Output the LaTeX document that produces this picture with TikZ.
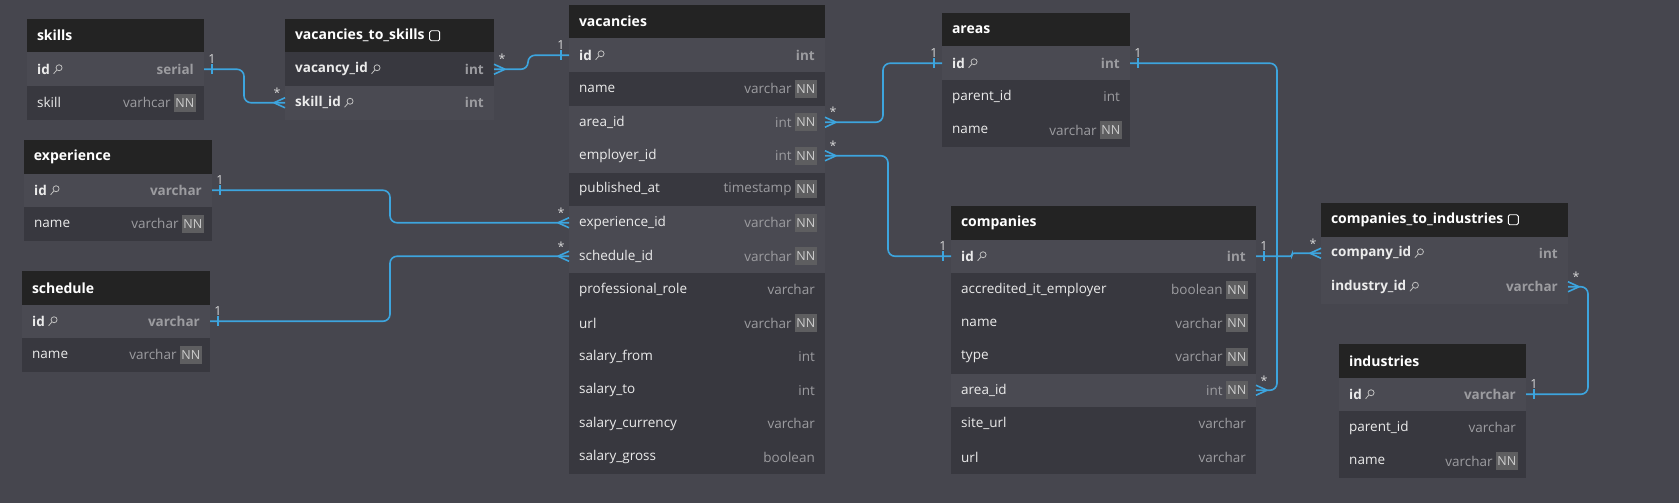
\documentclass[tikz,border=0pt]{standalone}
\usepackage{fontspec}
\setmainfont{Open Sans}
\definecolor{bg}{HTML}{46464E}
\definecolor{hdrc}{HTML}{232323}
\definecolor{rowhi}{HTML}{4A4A52}
\definecolor{rowlo}{HTML}{38383F}
\definecolor{typc}{HTML}{9C9CA0}
\definecolor{nnbg}{HTML}{5E5E60}
\definecolor{linec}{HTML}{3DA5DE}
\tikzset{
 hdr/.style={text=white,font=\fontsize{14}{16}\selectfont\bfseries,inner sep=0pt,outer sep=0pt},
 rowbox/.style={minimum height=33.5pt,inner sep=0pt,outer sep=0pt,draw=none},
 txt/.style={text=white!92!black,font=\fontsize{13.5}{15}\selectfont,inner sep=0pt},
 typ/.style={text=typc,font=\fontsize{13.5}{15}\selectfont,inner sep=0pt},
 nnb/.style={fill=nnbg,text=white!80!black,font=\fontsize{12.5}{14}\selectfont,inner sep=1.5pt,minimum height=18pt},
 conn/.style={draw=linec,line width=1.6pt,rounded corners=7pt},
 lbl/.style={text=white!85!black,font=\fontsize{12.5}{14}\selectfont,inner sep=0pt},
 keyic/.style={draw=white!75!black,line width=0.8pt}
}
\newcommand\erd[6]{%
 \node[rowbox,fill=hdrc,minimum width=#4pt,anchor=north west] (#1) at (#2,#3) {};
 \node[hdr,anchor=west] (#1-t) at ([xshift=10pt]#1.west) {#5};
 \foreach \n/\t/\nn/\k/\h [count=\i] in {#6}{
   \ifnum\h=1 \def\rf{rowhi}\else\def\rf{rowlo}\fi
   \ifnum\k=1 \def\nf{\bfseries}\else\def\nf{}\fi
   \node[rowbox,fill=\rf,minimum width=#4pt,anchor=north west] (#1-\i) at (#2,{#3+33.5*\i}) {};
   \node[txt,anchor=west] (#1-\i-n) at ([xshift=10pt]#1-\i.west) {\nf\n};
   \ifnum\k=1
     \draw[keyic] ([xshift=9pt,yshift=1.5pt]#1-\i-n.east) circle (3pt);
     \draw[keyic] ([xshift=7pt,yshift=-0.5pt]#1-\i-n.east) -- ([xshift=3.5pt,yshift=-4.5pt]#1-\i-n.east);
   \fi
   \ifnum\nn=1
     \node[nnb,anchor=east] (#1-\i-b) at ([xshift=-8pt]#1-\i.east) {NN};
     \node[typ,anchor=east] at ([xshift=-3pt]#1-\i-b.west) {\nf\t};
   \else
     \node[typ,anchor=east] at ([xshift=-10pt]#1-\i.east) {\nf\t};
   \fi
 }%
}
\newcommand\noteic[1]{\draw[white,line width=0.9pt,rounded corners=1.5pt] ([xshift=5pt,yshift=-5pt]#1.east) rectangle ([xshift=15pt,yshift=5pt]#1.east);}
\newcommand\crow[2]{\draw[conn,rounded corners=0pt] ([xshift=#2*11pt]#1) -- ([yshift=5pt]#1) ([xshift=#2*11pt]#1) -- ([yshift=-5pt]#1);}
\newcommand\tick[2]{\draw[conn,rounded corners=0pt] ([xshift=#2*8pt,yshift=5pt]#1) -- ([xshift=#2*8pt,yshift=-5pt]#1);}
\newcommand\lab[3]{\node[lbl] at ([xshift=#2*8pt,yshift=10pt]#1) {#3};}
\begin{document}
\begin{tikzpicture}[x=1pt,y=-1pt]
\fill[bg] (0,0) rectangle (1679,503);
\useasboundingbox (0,0) rectangle (1679,503);
\erd{sk}{27}{19}{177}{skills}{id/serial/0/1/1, skill/varhcar/1/0/0}
\erd{vts}{285}{19}{209}{vacancies\_to\_skills}{vacancy\_id/int/0/1/0, skill\_id/int/0/1/1}
\noteic{vts-t}
\erd{exp}{24}{140}{188}{experience}{id/varchar/0/1/1, name/varchar/1/0/0}
\erd{sch}{22}{271}{188}{schedule}{id/varchar/0/1/1, name/varchar/1/0/0}
\erd{vac}{569}{5}{256}{vacancies}{id/int/0/1/1, name/varchar/1/0/0, area\_id/int/1/0/1, employer\_id/int/1/0/1, published\_at/timestamp/1/0/0, experience\_id/varchar/1/0/1, schedule\_id/varchar/1/0/1, professional\_role/varchar/0/0/0, url/varchar/1/0/0, salary\_from/int/0/0/0, salary\_to/int/0/0/0, salary\_currency/varchar/0/0/0, salary\_gross/boolean/0/0/0}
\erd{ar}{942}{13}{188}{areas}{id/int/0/1/1, parent\_id/int/0/0/0, name/varchar/1/0/0}
\erd{co}{951}{206}{305}{companies}{id/int/0/1/1, accredited\_it\_employer/boolean/1/0/0, name/varchar/1/0/0, type/varchar/1/0/0, area\_id/int/1/0/1, site\_url/varchar/0/0/0, url/varchar/0/0/0}
\erd{cti}{1321}{203}{247}{companies\_to\_industries}{company\_id/int/0/1/1, industry\_id/varchar/0/1/1}
\noteic{cti-t}
\erd{ind}{1339}{344}{187}{industries}{id/varchar/0/1/1, parent\_id/varchar/0/0/0, name/varchar/1/0/0}
\coordinate (m1) at (244,0);
\coordinate (m2) at (528,0);
\coordinate (m3) at (390,0);
\coordinate (m4) at (883,0);
\coordinate (m5) at (888,0);
\coordinate (m6) at (1277,0);
\coordinate (m7) at (1292,0);
\coordinate (m8) at (1588,0);
\draw[conn] (sk-1.east) -- (sk-1.east -| m1) |- (vts-2.west);
\tick{sk-1.east}{1}\lab{sk-1.east}{1}{1}\crow{vts-2.west}{-1}\lab{vts-2.west}{-1}{*}
\draw[conn] (vts-1.east) -- (vts-1.east -| m2) |- (vac-1.west);
\crow{vts-1.east}{1}\lab{vts-1.east}{1}{*}\tick{vac-1.west}{-1}\lab{vac-1.west}{-1}{1}
\draw[conn] (exp-1.east) -- (exp-1.east -| m3) |- (vac-6.west);
\tick{exp-1.east}{1}\lab{exp-1.east}{1}{1}\crow{vac-6.west}{-1}\lab{vac-6.west}{-1}{*}
\draw[conn] (sch-1.east) -- (sch-1.east -| m3) |- (vac-7.west);
\tick{sch-1.east}{1}\lab{sch-1.east}{1}{1}\crow{vac-7.west}{-1}\lab{vac-7.west}{-1}{*}
\draw[conn] (vac-3.east) -- (vac-3.east -| m4) |- (ar-1.west);
\crow{vac-3.east}{1}\lab{vac-3.east}{1}{*}\tick{ar-1.west}{-1}\lab{ar-1.west}{-1}{1}
\draw[conn] (vac-4.east) -- (vac-4.east -| m5) |- (co-1.west);
\crow{vac-4.east}{1}\lab{vac-4.east}{1}{*}\tick{co-1.west}{-1}\lab{co-1.west}{-1}{1}
\draw[conn] (ar-1.east) -- (ar-1.east -| m6) |- (co-5.east);
\tick{ar-1.east}{1}\lab{ar-1.east}{1}{1}\crow{co-5.east}{1}\lab{co-5.east}{1}{*}
\draw[conn,rounded corners=2pt] (co-1.east) -- (co-1.east -| m7) |- (cti-1.west);
\tick{co-1.east}{1}\lab{co-1.east}{1}{1}\crow{cti-1.west}{-1}\lab{cti-1.west}{-1}{*}
\draw[conn] (ind-1.east) -- (ind-1.east -| m8) |- (cti-2.east);
\tick{ind-1.east}{1}\lab{ind-1.east}{1}{1}\crow{cti-2.east}{1}\lab{cti-2.east}{1}{*}
\end{tikzpicture}
\end{document}
